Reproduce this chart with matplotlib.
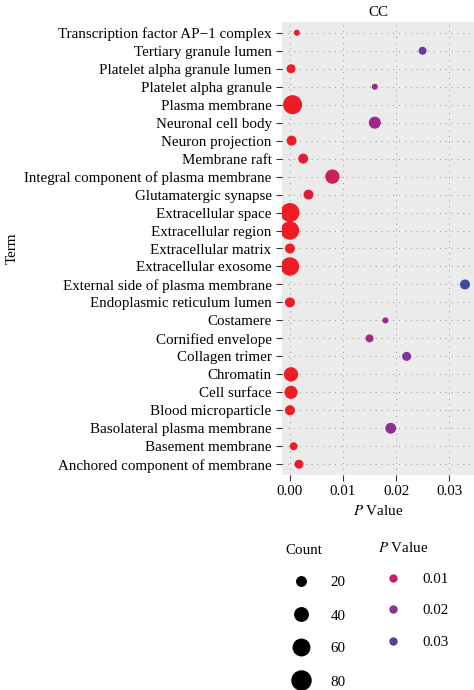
import matplotlib
matplotlib.use("Agg")
import matplotlib.pyplot as plt
from matplotlib.colors import LinearSegmentedColormap, Normalize
from matplotlib.lines import Line2D

plt.rcParams["font.family"] = ["Liberation Serif", "DejaVu Serif"]
plt.rcParams["mathtext.fontset"] = "stix"

terms = ["Transcription factor AP\u22121 complex", "Tertiary granule lumen",
         "Platelet alpha granule lumen", "Platelet alpha granule", "Plasma membrane",
         "Neuronal cell body", "Neuron projection", "Membrane raft",
         "Integral component of plasma membrane", "Glutamatergic synapse",
         "Extracellular space", "Extracellular region", "Extracellular matrix",
         "Extracellular exosome", "External side of plasma membrane",
         "Endoplasmic reticulum lumen", "Costamere", "Cornified envelope",
         "Collagen trimer", "Chromatin", "Cell surface", "Blood microparticle",
         "Basolateral plasma membrane", "Basement membrane",
         "Anchored component of membrane"]
pvals = [0.0013, 0.025, 0.0002, 0.016, 0.0005, 0.016, 0.0003, 0.0025, 0.008, 0.0035,
         0.0, 0.0, 0.0, 0.0, 0.033, 0.0, 0.018, 0.015, 0.022, 0.0002, 0.0002, 0.0,
         0.019, 0.0007, 0.0017]
counts = [8, 14, 18, 8, 80, 32, 22, 22, 45, 22, 80, 75, 22, 75, 22, 22, 8, 14, 18,
          45, 38, 22, 26, 14, 18]
size_levels = [20, 40, 60, 80]
p_levels = [0.01, 0.02, 0.03]

cmap = LinearSegmentedColormap.from_list("rb", ["#ee1c25", "#a0278f", "#3b4ba0"])
norm = Normalize(0.0, 0.033)
k = 2.35
fs = 10.8

fig = plt.figure(figsize=(4.74, 6.9), dpi=100)
ax = fig.add_axes([282 / 474, 1 - 475 / 690, 192 / 474, 453 / 690])
ax.set_facecolor("#ebebeb")
y = list(range(len(terms)))[::-1]
ax.scatter(pvals, y, s=[c * k for c in counts], c=[cmap(norm(p)) for p in pvals],
           zorder=3, linewidths=0)
ax.set_yticks(y)
ax.set_yticklabels(terms, fontsize=fs)
ax.set_ylim(-0.6, len(terms) - 0.4)
ax.set_xlim(-0.0015, 0.0347)
ax.set_xticks([0.0, 0.01, 0.02, 0.03])
ax.set_xticklabels(["0.00", "0.01", "0.02", "0.03"], fontsize=fs)
ax.grid(True, color="#777777", linestyle=(0, (1, 6)), linewidth=0.6)
ax.set_axisbelow(True)
for s in ax.spines.values():
    s.set_visible(False)
ax.tick_params(length=4, color="#333333")
ax.set_xlabel("$\\it{P}$ Value", fontsize=fs)
ax.set_ylabel("Term", fontsize=fs)
ax.set_title("CC", fontsize=fs, pad=4)

h1 = [Line2D([], [], marker="o", ls="", color="black", markersize=(v * k) ** 0.5)
      for v in size_levels]
fig.legend(h1, [str(v) for v in size_levels], title="Count",
           loc="upper left", bbox_to_anchor=(272 / 474, 1 - 530 / 690),
           frameon=False, fontsize=fs, title_fontsize=fs, labelspacing=1.3,
           handletextpad=1.0, alignment="left")
h2 = [Line2D([], [], marker="o", ls="", color=cmap(norm(v)), markersize=5)
      for v in p_levels]
fig.legend(h2, ["0.01", "0.02", "0.03"], title="$\\it{P}$ Value",
           loc="upper left", bbox_to_anchor=(364 / 474, 1 - 527 / 690),
           frameon=False, fontsize=fs, title_fontsize=fs, labelspacing=1.2,
           handletextpad=1.0, alignment="left")
fig.savefig("out.png", dpi=100)
